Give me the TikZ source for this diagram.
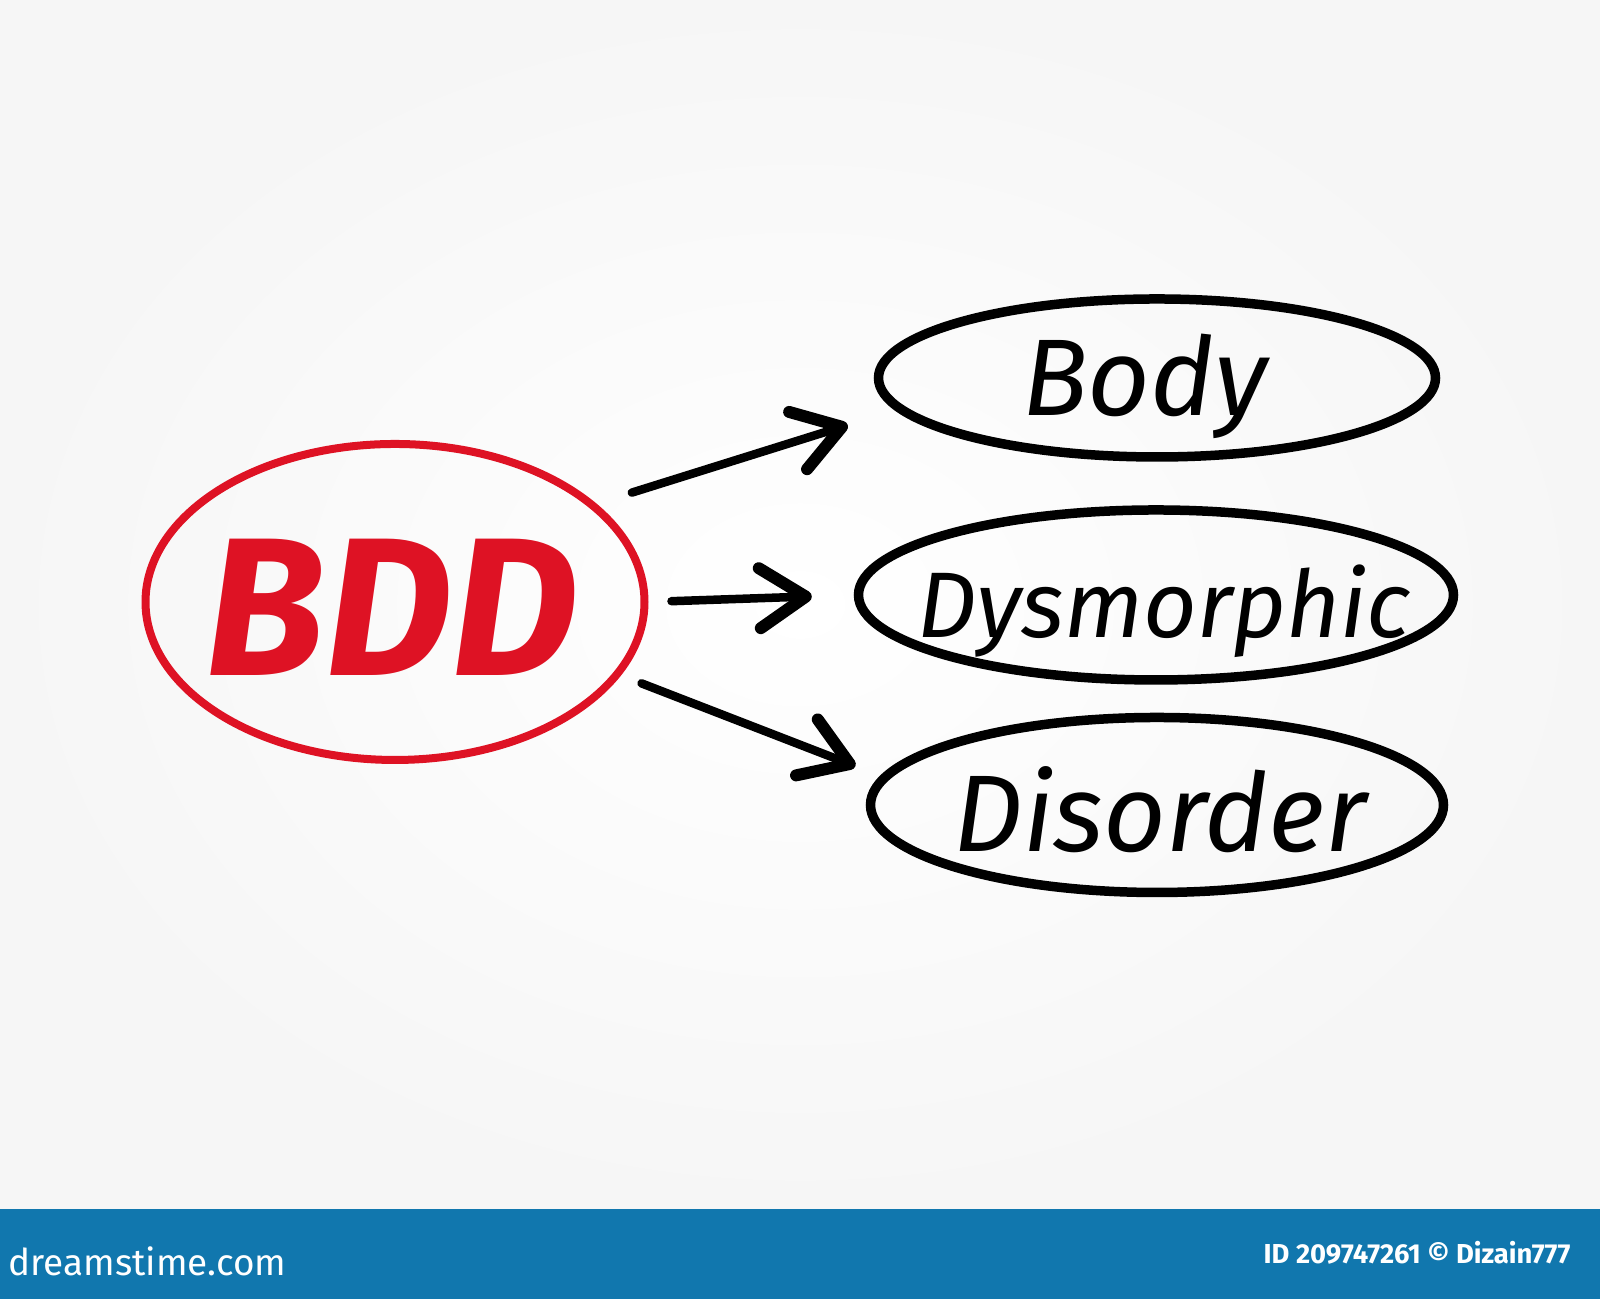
\documentclass[tikz,border=0pt]{standalone}
\usepackage{fontspec}
\usetikzlibrary{shapes.geometric,arrows.meta}
\newfontfamily\handfont{Fira Sans}
\definecolor{bddred}{RGB}{222,18,36}
\definecolor{barblue}{RGB}{17,119,174}
\tikzset{
	acroring/.style={
		shape=ellipse, draw=bddred, line width=0.8mm, inner sep=0,
		minimum width=49.9mm, minimum height=31.6mm
	},
	wordring/.style={
		shape=ellipse, draw=black, line width=0.95mm, inner sep=0
	},
	wordtext/.style={
		font=\handfont\itshape\fontsize{31}{36}\selectfont, anchor=base, inner sep=0
	},
	pointer/.style={
		-{Straight Barb[length=4.6mm,width=6mm,line width=1.2mm,round]}, line width=0.85mm,
		line cap=round, line join=round
	}
}

\begin{document}
\begin{tikzpicture}[x=0.1mm, y=0.1mm]
				\useasboundingbox (0,0) rectangle (1600,1299);
				\shade[inner color=white, outer color=gray!7] (0,90) rectangle (1600,1299);
				\fill[barblue] (0,0) rectangle (1600,90);
				% acronym
				\path (395,697) node[acroring] (bdd) {};
				\path (bdd.center) ++ (-3,-74) node[wordtext, text=bddred,
					font=\handfont\bfseries\itshape\fontsize{56}{64}\selectfont] (bddtext) {BDD};
				% words
				\path (1157,921) node[wordring, minimum width=55.7mm, minimum height=15.8mm] (body) {};
				\path (body.center) ++ (-12,-38) node[wordtext] (bodytext) {Body};
				\path (1156,704) node[wordring, minimum width=59.5mm, minimum height=17mm] (dys) {};
				\path (dys.center) ++ (8,-43) node[wordtext, font=\handfont\itshape\fontsize{26.5}{32}\selectfont] (dystext) {Dysmorphic};
				\path (1157,494) node[wordring, minimum width=57.3mm, minimum height=17.5mm] (dis) {};
				\path (dis.center) ++ (3,-47) node[wordtext] (distext) {Disorder};
				% arrows
				\draw[pointer, shorten <=3.7mm, shorten >=5mm] (bdd.26) -- (body.187);
				\draw[pointer, shorten <=2.3mm, shorten >=4.2mm] (bdd.east) -- (dys.west);
				\draw[pointer, shorten <=2.2mm, shorten >=2.7mm] (bdd.-18) -- (dis.174);
				% footer
				\path (8,38) node[anchor=west, text=white, inner sep=0,
					font=\handfont\fontsize{10.5}{12}\selectfont] (site) {dreamstime.com};
				\path (1571,46) node[anchor=east, text=white, inner sep=0,
					font=\handfont\bfseries\fontsize{7.8}{9}\selectfont] (credit) {ID 209747261 © Dizain777};
			\end{tikzpicture}
\end{document}
